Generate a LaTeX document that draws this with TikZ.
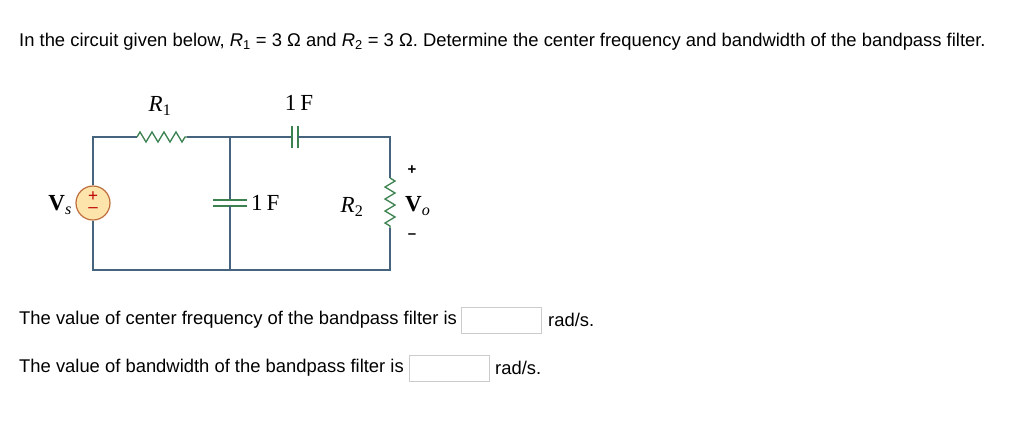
\documentclass[tikz,border=0pt]{standalone}
\usepackage{fontspec}
\setmainfont{Liberation Sans}
\newfontfamily\cktfont{Liberation Serif}
\usetikzlibrary{decorations.pathmorphing}
\definecolor{wireblue}{RGB}{70,100,125}
\definecolor{resgreen}{RGB}{60,130,80}
\definecolor{srcfill}{RGB}{253,228,170}
\definecolor{srcline}{RGB}{190,110,60}
\tikzset{
  wire/.style={draw=wireblue, line width=1.2pt},
  res/.style={draw=resgreen, line width=1.3pt, decorate, decoration={zigzag, amplitude=5pt, segment length=12pt}},
  plate/.style={draw=resgreen, line width=1.3pt},
  lbl/.style={font=\cktfont\fontsize{23}{23}\selectfont, inner sep=1pt},
  txt/.style={font=\fontsize{18.4}{21}\selectfont, anchor=west, inner sep=0pt},
  ansbox/.style={draw=black!20, line width=0.8pt, minimum width=80pt, minimum height=26pt, inner sep=0pt}
}
\begin{document}
\begin{tikzpicture}[x=1pt,y=-1pt]
    \useasboundingbox[fill=white] (0,0) rectangle (1024,429);
    % question
    \node[txt] (q) at (19,42) {In the circuit given below, \textit{R}\textsubscript{1} = 3 Ω and \textit{R}\textsubscript{2} = 3 Ω. Determine the center frequency and bandwidth of the bandpass filter.};

    % corners of the circuit
    \coordinate (tl) at (93,137); \coordinate (tm) at (230,137); \coordinate (tr) at (390,137);
    \coordinate (bl) at (93,270); \coordinate (bm) at (230,270); \coordinate (br) at (390,270);

    % source
    \node[circle, draw=srcline, fill=srcfill, line width=1.2pt, minimum size=34pt, inner sep=0pt] (vs) at (93,203) {};
    \node[red!75!black, font=\fontsize{17}{17}\selectfont, inner sep=0pt] at (93,197) {+};
    \node[red!75!black, font=\fontsize{17}{17}\selectfont, inner sep=0pt] at (93,210) {--};
    \draw[wire] (vs.north) -- (tl) -- (137,137);
    \draw[res] (137,137) -- (187,137);
    \draw[wire] (187,137) -- (tm) -- (292,137);
    \draw[plate] (292,126) -- (292,148); \draw[plate] (298,126) -- (298,148);
    \draw[wire] (298,137) -- (tr) -- (390,178);
    \draw[res] (390,178) -- (390,228);
    \draw[wire] (390,228) -- (br) -- (bm) -- (bl) -- (vs.south);
    % shunt capacitor
    \draw[wire] (tm) -- (230,200);
    \draw[plate] (213,200) -- (247,200); \draw[plate] (213,206) -- (247,206);
    \draw[wire] (230,206) -- (bm);

    % labels
    \node[lbl] (r1) at (160,106) {\textit{R}\textsubscript{1}};
    \node[lbl] (c1) at (299,103) {1\,F};
    \node[lbl, anchor=west] (c2) at (250,203) {1\,F};
    \node[lbl] (r2) at (352,207) {\textit{R}\textsubscript{2}};
    \node[lbl, anchor=east] (vsl) at (73,205) {\textbf{V}\textsubscript{\textit{s}}};
    \node[lbl, anchor=west] (vo) at (404,206) {\textbf{V}\textsubscript{\textit{o}}};
    \node[font=\bfseries\fontsize{15}{15}\selectfont, inner sep=0pt] (pl) at (412,170) {+};
    \node[font=\bfseries\fontsize{15}{15}\selectfont, inner sep=0pt] (mi) at (412,236) {--};

    % answers
    \node[txt] (a1) at (19,320) {The value of center frequency of the bandpass filter is};
    \node[ansbox] (b1) at (501.5,320) {};
    \node[txt] (u1) at (548,320) {rad/s.};
    \node[txt] (a2) at (19,368) {The value of bandwidth of the bandpass filter is};
    \node[ansbox] (b2) at (449.5,368) {};
    \node[txt] (u2) at (495,368) {rad/s.};
\end{tikzpicture}
\end{document}
